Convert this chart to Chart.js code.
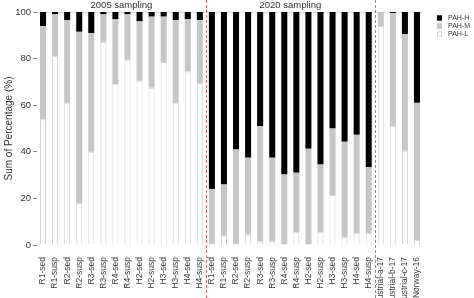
<!DOCTYPE html>
<html>
<head>
<meta charset="utf-8">
<script src="https://cdn.jsdelivr.net/npm/chart.js@4"></script>
<style>
  html, body { margin: 0; padding: 0; background: #fff; overflow: hidden; }
  #wrap { width: 474px; height: 298px; }
</style>
</head>
<body>
<div id="wrap"><canvas id="pahChart" width="474" height="298"></canvas></div>
<script>
// Sample names (same set for both campaigns) plus the reference sites
const siteNames = ["R1-sed", "R1-susp", "R2-sed", "R2-susp", "R3-sed", "R3-susp", "R4-sed",
    "R4-susp", "H2-sed", "H2-susp", "H3-sed", "H3-susp", "H4-sed", "H4-susp"];
const refNames = ["Industrial-a-17", "Industrial-b-17", "Industrial-c-17", "Norway-16"];
const categories = [...siteNames, ...siteNames, ...refNames];

const sectionTitles = ["2005 sampling", "2020 sampling"];

// Percentages (2005 x14, 2020 x14, reference x4)
const pahL = [54, 81, 61, 18, 40, 87, 69, 79.5, 70.5, 67.5, 78.5, 61, 74.5, 69.5,
    0.5, 4, 0.5, 4.5, 1.5, 1.5, 0.3, 5.5, 0.3, 5.5, 21.5, 3.3, 5, 5,
    94, 51, 40.5, 2];
const pahM = [40, 18, 35.5, 73.5, 51, 12, 28, 19.5, 25.5, 30.5, 19.5, 35.5, 22.5, 27,
    23.5, 22, 40.5, 33, 49.5, 36, 30, 25.5, 41, 29, 28.5, 41, 42.3, 28.5,
    6, 48.5, 50, 59];
const pahH = [6, 1, 3.5, 8.5, 9, 1, 3, 1, 4, 2, 2, 3.5, 3, 3.5,
    76, 74, 59, 62.5, 49, 62.5, 69.7, 69, 58.7, 65.5, 50, 55.7, 52.7, 66.5,
    0, 0.5, 9.5, 39];

const fontFamily = "'Liberation Sans', Arial, sans-serif";

// Draws the dashed separators, section titles and the legend
const extrasPlugin = {
    id: "extras",
    afterDraw(chart) {
        const c = chart.ctx;
        const x = chart.scales.x;
        const sepAt = (i) => (x.getPixelForTick(i) + x.getPixelForTick(i + 1)) / 2;
        const seps = [sepAt(13), sepAt(27)];

        c.save();
        c.strokeStyle = "rgba(205, 80, 80, 0.85)";
        c.lineWidth = 1;
        c.setLineDash([3, 2]);
        seps.forEach((sx) => {
            c.beginPath();
            c.moveTo(Math.round(sx) + 0.5, 0);
            c.lineTo(Math.round(sx) + 0.5, chart.height);
            c.stroke();
        });
        c.setLineDash([]);

        // section titles centred over each campaign
        c.fillStyle = "#333";
        c.font = "9.5px " + fontFamily;
        c.textAlign = "center";
        c.textBaseline = "middle";
        const starts = [0, 14];
        starts.forEach((s, k) => {
            const cx = (x.getPixelForTick(s) + x.getPixelForTick(s + 13)) / 2;
            c.fillText(sectionTitles[k], cx, 5.5);
        });

        // legend, top layer first
        const items = chart.data.datasets.slice().reverse();
        c.font = "7px " + fontFamily;
        c.textAlign = "left";
        items.forEach((ds, i) => {
            const y = 18 + i * 8;
            c.fillStyle = ds.backgroundColor;
            c.fillRect(437, y - 2.5, 5, 5);
            c.strokeStyle = ds.legendBorder;
            c.lineWidth = 1;
            c.strokeRect(437.5, y - 2, 4, 4);
            c.fillStyle = "#333";
            c.fillText(ds.label, 448, y + 0.5);
        });
        c.restore();
    },
};

const ctx = document.getElementById("pahChart").getContext("2d");
const chart = new Chart(ctx, {
    type: "bar",
    data: {
        labels: categories,
        datasets: [
            {
                label: "PAH-L",
                data: pahL,
                backgroundColor: "#ffffff",
                borderColor: "#d2d2d2",
                borderWidth: 1,
                legendBorder: "#d2d2d2",
            },
            {
                label: "PAH-M",
                data: pahM,
                backgroundColor: "#c6c6c6",
                borderWidth: 0,
                legendBorder: "#c6c6c6",
            },
            {
                label: "PAH-H",
                data: pahH,
                backgroundColor: "#000000",
                borderWidth: 0,
                legendBorder: "#000000",
            },
        ],
    },
    options: {
        responsive: false,
        animation: false,
        layout: { padding: { top: 12, right: 51, left: 0, bottom: 0 } },
        datasets: { bar: { categoryPercentage: 1, barPercentage: 0.5 } },
        plugins: {
            legend: { display: false },
            tooltip: { enabled: false },
        },
        scales: {
            x: {
                stacked: true,
                border: { display: false },
                grid: { display: false },
                ticks: {
                    minRotation: 90,
                    maxRotation: 90,
                    autoSkip: false,
                    padding: 4,
                    color: "#3a3a3a",
                    font: { size: 8.5, family: fontFamily },
                },
                afterFit: (scale) => { scale.height = 53; },
            },
            y: {
                stacked: true,
                min: 0,
                max: 100,
                border: { display: false },
                grid: {
                    color: (c) => (c.tick && c.tick.value === 100 ? "#dddddd" : "rgba(0,0,0,0)"),
                    tickColor: "#888",
                    tickLength: 4,
                },
                ticks: {
                    stepSize: 20,
                    padding: 2,
                    color: "#333",
                    font: { size: 9.5, family: fontFamily },
                },
                title: {
                    display: true,
                    text: "Sum of Percentage (%)",
                    color: "#333",
                    padding: { top: 3, bottom: 0 },
                    font: { size: 10, family: fontFamily },
                },
                afterFit: (scale) => { scale.width = 37; },
            },
        },
    },
    plugins: [extrasPlugin],
});
</script>
</body>
</html>
